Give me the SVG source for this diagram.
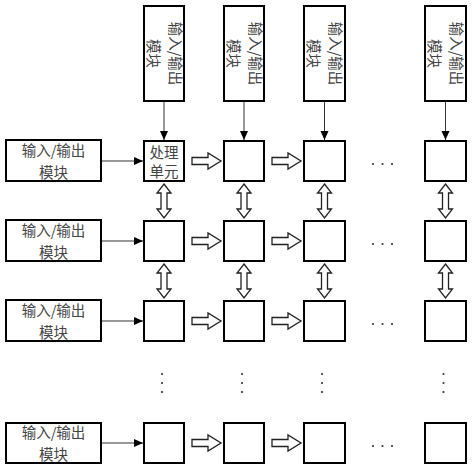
<svg xmlns="http://www.w3.org/2000/svg" width="474" height="473" viewBox="0 0 474 473">
<defs>
<style>
.box{fill:#fff;stroke:#000;stroke-width:2}
.t{font-family:"Noto Sans CJK SC","Noto Sans",sans-serif;font-size:14.5px;fill:#444;text-anchor:middle}
.ln{stroke:#333;stroke-width:1;fill:none}
.ha{fill:#fff;stroke:#222;stroke-width:1.3;stroke-linejoin:miter}
.dot{fill:#333}
</style>
<marker id="ah" markerWidth="10" markerHeight="10" refX="9" refY="5" orient="auto" markerUnits="userSpaceOnUse">
<path d="M0,1 L9,5 L0,9 Z" fill="#000"/>
</marker>
<path id="harr" d="M0,-3.5 H16 V-8 L29,0 L16,8 V3.5 H0 Z"/>
<path id="varr" d="M0,0 L7,9 H3 V25 H7 L0,34 L-7,25 H-3 V9 H-7 Z"/>
</defs>
<rect width="474" height="473" fill="#fff"/>

<g id="top-io-1"><rect class="box" x="144" y="6" width="40" height="95"/>
<g transform="translate(164,53.5) rotate(90)"><text class="t" x="0" y="-5.5">输入/输出</text><text class="t" x="0" y="16.5">模块</text></g></g>
<g id="top-io-2"><rect class="box" x="224" y="6" width="40" height="95"/>
<g transform="translate(244,53.5) rotate(90)"><text class="t" x="0" y="-5.5">输入/输出</text><text class="t" x="0" y="16.5">模块</text></g></g>
<g id="top-io-3"><rect class="box" x="304" y="6" width="41" height="95"/>
<g transform="translate(324.5,53.5) rotate(90)"><text class="t" x="0" y="-5.5">输入/输出</text><text class="t" x="0" y="16.5">模块</text></g></g>
<g id="top-io-4"><rect class="box" x="425" y="6" width="41" height="95"/>
<g transform="translate(445.5,53.5) rotate(90)"><text class="t" x="0" y="-5.5">输入/输出</text><text class="t" x="0" y="16.5">模块</text></g></g>

<g id="left-io-1"><rect class="box" x="6" y="140" width="95" height="41"/><text class="t" x="53.5" y="156">输入/输出</text><text class="t" x="53.5" y="178">模块</text></g>
<g id="left-io-2"><rect class="box" x="6" y="220" width="95" height="41"/><text class="t" x="53.5" y="236">输入/输出</text><text class="t" x="53.5" y="258">模块</text></g>
<g id="left-io-3"><rect class="box" x="6" y="300" width="95" height="41"/><text class="t" x="53.5" y="316">输入/输出</text><text class="t" x="53.5" y="338">模块</text></g>
<g id="left-io-4"><rect class="box" x="6" y="423" width="95" height="40"/><text class="t" x="53.5" y="438">输入/输出</text><text class="t" x="53.5" y="460">模块</text></g>

<g id="pe-1-1"><rect class="box" x="144" y="141" width="40" height="40"/><text class="t" x="164" y="158">处理</text><text class="t" x="164" y="177">单元</text></g>
<g id="pe-1-2"><rect class="box" x="224" y="141" width="40" height="40"/></g>
<g id="pe-1-3"><rect class="box" x="304" y="141" width="41" height="40"/></g>
<g id="pe-1-4"><rect class="box" x="425" y="141" width="41" height="40"/></g>
<g id="pe-2-1"><rect class="box" x="144" y="221" width="40" height="40"/></g>
<g id="pe-2-2"><rect class="box" x="224" y="221" width="40" height="40"/></g>
<g id="pe-2-3"><rect class="box" x="304" y="221" width="41" height="40"/></g>
<g id="pe-2-4"><rect class="box" x="425" y="221" width="41" height="40"/></g>
<g id="pe-3-1"><rect class="box" x="144" y="301" width="40" height="40"/></g>
<g id="pe-3-2"><rect class="box" x="224" y="301" width="40" height="40"/></g>
<g id="pe-3-3"><rect class="box" x="304" y="301" width="41" height="40"/></g>
<g id="pe-3-4"><rect class="box" x="425" y="301" width="41" height="40"/></g>
<g id="pe-4-1"><rect class="box" x="144" y="423" width="40" height="40"/></g>
<g id="pe-4-2"><rect class="box" x="224" y="423" width="40" height="40"/></g>
<g id="pe-4-3"><rect class="box" x="304" y="423" width="41" height="40"/></g>
<g id="pe-4-4"><rect class="box" x="425" y="423" width="41" height="40"/></g>

<g id="connectors">
<line class="ln" x1="164" y1="102" x2="164" y2="140" marker-end="url(#ah)"/>
<line class="ln" x1="244" y1="102" x2="244" y2="140" marker-end="url(#ah)"/>
<line class="ln" x1="324.5" y1="102" x2="324.5" y2="140" marker-end="url(#ah)"/>
<line class="ln" x1="445.5" y1="102" x2="445.5" y2="140" marker-end="url(#ah)"/>
<line class="ln" x1="102" y1="161" x2="143" y2="161" marker-end="url(#ah)"/>
<line class="ln" x1="102" y1="241" x2="143" y2="241" marker-end="url(#ah)"/>
<line class="ln" x1="102" y1="321" x2="143" y2="321" marker-end="url(#ah)"/>
<line class="ln" x1="102" y1="443" x2="143" y2="443" marker-end="url(#ah)"/>

<use href="#harr" class="ha" x="192" y="161"/>
<use href="#harr" class="ha" x="272" y="161"/>
<use href="#harr" class="ha" x="192" y="241"/>
<use href="#harr" class="ha" x="272" y="241"/>
<use href="#harr" class="ha" x="192" y="321"/>
<use href="#harr" class="ha" x="272" y="321"/>
<use href="#harr" class="ha" x="192" y="443"/>
<use href="#harr" class="ha" x="272" y="443"/>

<use href="#varr" class="ha" x="164" y="184"/>
<use href="#varr" class="ha" x="244" y="184"/>
<use href="#varr" class="ha" x="324.5" y="184"/>
<use href="#varr" class="ha" x="445.5" y="184"/>
<use href="#varr" class="ha" x="164" y="264"/>
<use href="#varr" class="ha" x="244" y="264"/>
<use href="#varr" class="ha" x="324.5" y="264"/>
<use href="#varr" class="ha" x="445.5" y="264"/>
</g>

<g id="ellipses">
<circle class="dot" cx="373" cy="164" r="1.1"/><circle class="dot" cx="382.5" cy="164" r="1.1"/><circle class="dot" cx="392" cy="164" r="1.1"/>
<circle class="dot" cx="373" cy="244" r="1.1"/><circle class="dot" cx="382.5" cy="244" r="1.1"/><circle class="dot" cx="392" cy="244" r="1.1"/>
<circle class="dot" cx="373" cy="324" r="1.1"/><circle class="dot" cx="382.5" cy="324" r="1.1"/><circle class="dot" cx="392" cy="324" r="1.1"/>
<circle class="dot" cx="373" cy="446" r="1.1"/><circle class="dot" cx="382.5" cy="446" r="1.1"/><circle class="dot" cx="392" cy="446" r="1.1"/>
<circle class="dot" cx="162" cy="374" r="1.1"/><circle class="dot" cx="162" cy="383" r="1.1"/><circle class="dot" cx="162" cy="392" r="1.1"/>
<circle class="dot" cx="242" cy="374" r="1.1"/><circle class="dot" cx="242" cy="383" r="1.1"/><circle class="dot" cx="242" cy="392" r="1.1"/>
<circle class="dot" cx="322" cy="374" r="1.1"/><circle class="dot" cx="322" cy="383" r="1.1"/><circle class="dot" cx="322" cy="392" r="1.1"/>
<circle class="dot" cx="443.5" cy="374" r="1.1"/><circle class="dot" cx="443.5" cy="383" r="1.1"/><circle class="dot" cx="443.5" cy="392" r="1.1"/>
</g>
</svg>
